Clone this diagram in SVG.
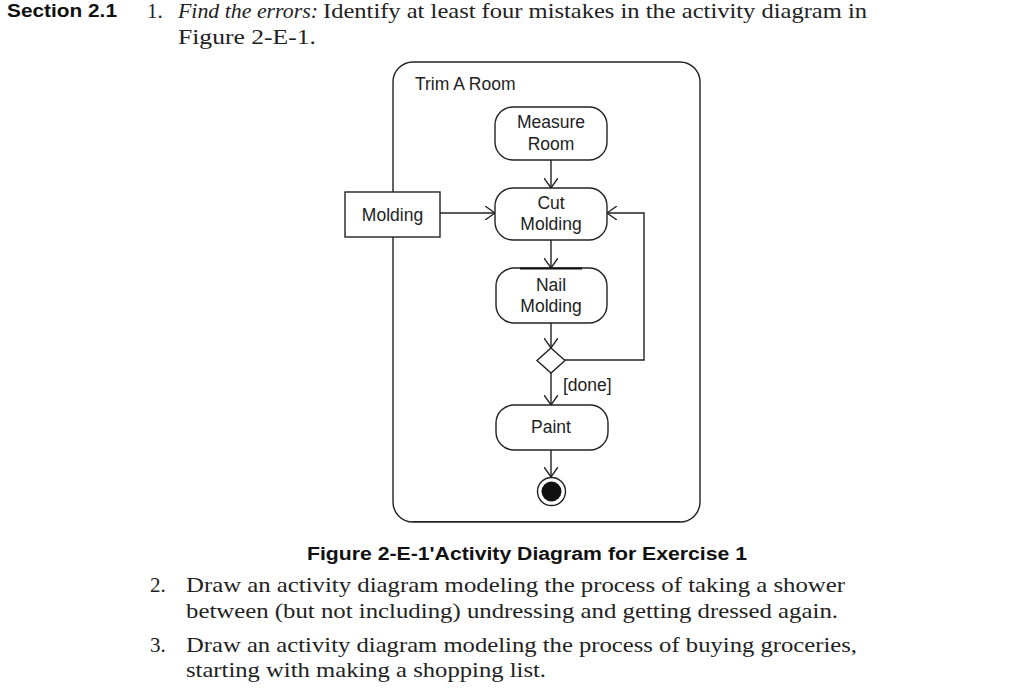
<svg xmlns="http://www.w3.org/2000/svg" width="1024" height="700" viewBox="0 0 1024 700">
<style>
.serif{font-family:"Liberation Serif","Times New Roman",serif;font-size:21px;fill:#222}
.it{font-style:italic}
.bold{font-family:"Liberation Sans",Arial,sans-serif;font-weight:bold;fill:#111}
.lbl{font-family:"Liberation Sans",Arial,sans-serif;font-size:17.5px;fill:#222}
.mid{text-anchor:middle}
.shape{fill:#fff;stroke:#222;stroke-width:1.4}
.edge{fill:none;stroke:#222;stroke-width:1.4}
</style>
<defs>
<marker id="arr" viewBox="0 0 10 14" refX="10" refY="7" markerWidth="10" markerHeight="14" markerUnits="userSpaceOnUse" orient="auto">
<path d="M0,0 L10,7 L0,14" fill="none" stroke="#222" stroke-width="1.4"/>
</marker>
</defs>
<rect width="1024" height="700" fill="#fff"/>

<g id="header">
<text class="bold" x="7" y="17" font-size="17.5" textLength="110" lengthAdjust="spacingAndGlyphs">Section 2.1</text>
<text class="serif" x="147" y="18">1.</text>
<text class="serif it" x="178" y="18" textLength="140" lengthAdjust="spacingAndGlyphs">Find the errors:</text>
<text class="serif" x="323" y="18" textLength="544" lengthAdjust="spacingAndGlyphs">Identify at least four mistakes in the activity diagram in</text>
<text class="serif" x="178" y="44" textLength="138" lengthAdjust="spacingAndGlyphs">Figure 2-E-1.</text>
</g>

<g id="frame">
<rect class="shape" x="393" y="62" width="307" height="460" rx="20" ry="20"/>
<path d="M413,521.5 H680" stroke="#222" stroke-width="1" fill="none"/>
<text class="lbl" x="415" y="90">Trim A Room</text>
</g>

<g id="connectors">
<path class="edge" d="M551,160 V188" marker-end="url(#arr)"/>
<path class="edge" d="M440,213 H495" marker-end="url(#arr)"/>
<path class="edge" d="M551,240 V268" marker-end="url(#arr)"/>
<path class="edge" d="M551,323 V348" marker-end="url(#arr)"/>
<path class="edge" d="M565,360 H644 V213 H607" marker-end="url(#arr)"/>
<path class="edge" d="M551,373 V405" marker-end="url(#arr)"/>
<path class="edge" d="M551,450 V477" marker-end="url(#arr)"/>
<text class="lbl" x="563" y="391">[done]</text>
</g>

<g id="measure-room">
<rect class="shape" x="495" y="107" width="112" height="53" rx="18" ry="18"/>
<text class="lbl mid" x="551" y="128">Measure</text>
<text class="lbl mid" x="551" y="150">Room</text>
</g>

<g id="molding-object">
<rect class="shape" x="345" y="192" width="95" height="45"/>
<text class="lbl mid" x="392.5" y="221">Molding</text>
</g>

<g id="cut-molding">
<rect class="shape" x="495" y="188" width="112" height="52" rx="18" ry="18"/>
<text class="lbl mid" x="551" y="209">Cut</text>
<text class="lbl mid" x="551" y="230">Molding</text>
</g>

<g id="nail-molding">
<rect class="shape" x="496" y="268" width="111" height="55" rx="18" ry="18"/>
<path d="M520,268.5 H582" stroke="#111" stroke-width="2.2"/>
<text class="lbl mid" x="551" y="291">Nail</text>
<text class="lbl mid" x="551" y="312">Molding</text>
</g>

<g id="decision">
<path class="shape" d="M551,348 L565,360.5 L551,373 L537,360.5 Z"/>
</g>

<g id="paint">
<rect class="shape" x="496" y="405" width="112" height="45" rx="18" ry="18"/>
<text class="lbl mid" x="551" y="433">Paint</text>
</g>

<g id="final-node">
<circle cx="551.5" cy="491.5" r="14" fill="#fff" stroke="#222" stroke-width="1.4"/>
<circle cx="551.5" cy="491.5" r="10" fill="#111"/>
</g>

<g id="caption">
<text class="bold" x="307" y="560" font-size="18" textLength="440" lengthAdjust="spacingAndGlyphs">Figure 2-E-1'Activity Diagram for Exercise 1</text>
</g>

<g id="exercises">
<text class="serif" x="150" y="592">2.</text>
<text class="serif" x="186" y="592" textLength="659" lengthAdjust="spacingAndGlyphs">Draw an activity diagram modeling the process of taking a shower</text>
<text class="serif" x="186" y="618" textLength="652" lengthAdjust="spacingAndGlyphs">between (but not including) undressing and getting dressed again.</text>
<text class="serif" x="150" y="652">3.</text>
<text class="serif" x="186" y="652" textLength="671" lengthAdjust="spacingAndGlyphs">Draw an activity diagram modeling the process of buying groceries,</text>
<text class="serif" x="186" y="677" textLength="360" lengthAdjust="spacingAndGlyphs">starting with making a shopping list.</text>
</g>
</svg>
